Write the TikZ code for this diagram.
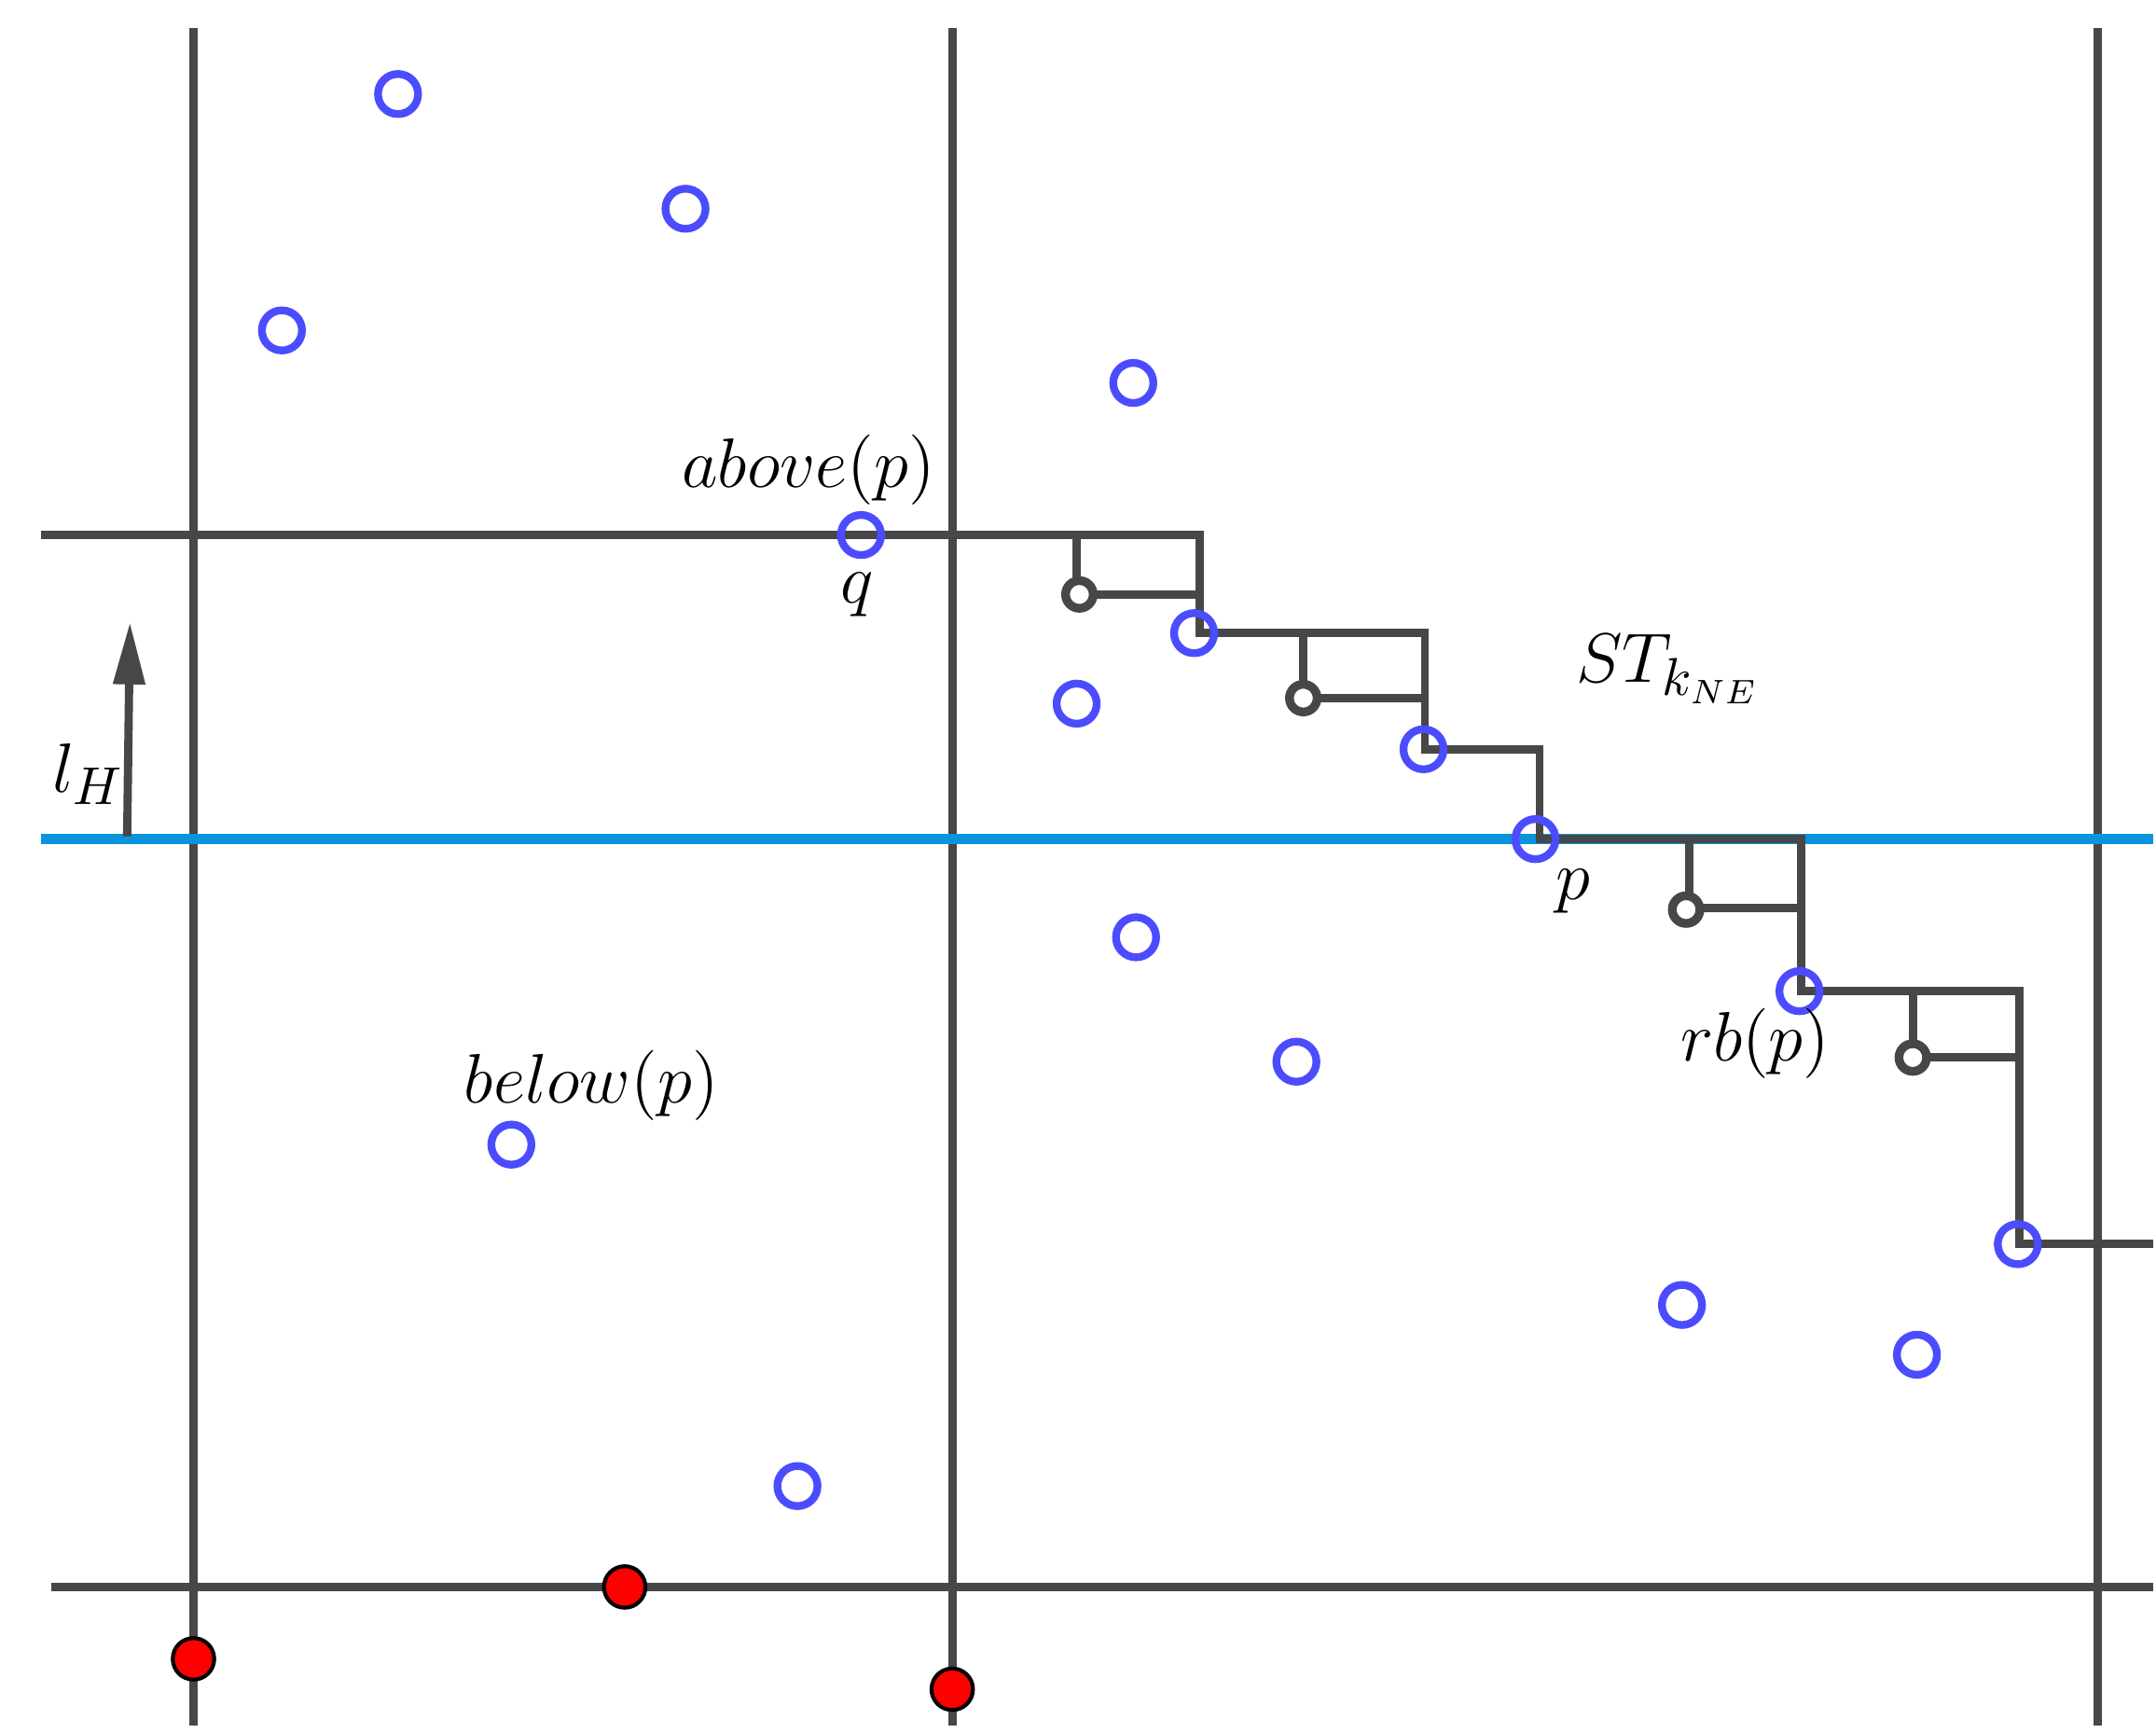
\documentclass[tikz,border=0pt]{standalone}
\usetikzlibrary{arrows.meta}
\begin{document}
\begin{tikzpicture}[x=0.01cm,y=-0.01cm,
  gl/.style={draw=black!72,line width=1.7pt},
  pt/.style={circle,draw=blue!70!white,line width=1.6pt,minimum size=0.29cm,inner sep=0pt},
  rp/.style={circle,draw=black,fill=red,line width=0.8pt,minimum size=0.3cm,inner sep=0pt},
  sm/.style={circle,draw=black!72,line width=1.8pt,fill=white,minimum size=0.2cm,inner sep=0pt},
  lab/.style={font=\fontsize{15}{18}\selectfont}]
\useasboundingbox (0,0) rectangle (1560,1253);
% lines
\coordinate (v1t) at (140,20); \coordinate (v1b) at (140,1248);
\coordinate (v2t) at (689,20); \coordinate (v2b) at (689,1248);
\coordinate (v3t) at (1518,20); \coordinate (v3b) at (1518,1248);
\draw[gl] (v1t)--(v1b); \draw[gl] (v2t)--(v2b); \draw[gl] (v3t)--(v3b);
\coordinate (bl0) at (37,1148); \coordinate (bl1) at (1558,1148);
\draw[gl] (bl0)--(bl1);
\coordinate (h0) at (30,387); \coordinate (h1) at (868,387);
\coordinate (c0) at (30,607); \coordinate (c1) at (1558,607);
\draw[draw=cyan!80!blue,line width=2pt] (c0)--(c1);
\draw[gl] (h0)--(h1)--(868,458)--(1031,458)--(1031,542)--(1114,542)--(1114,607)--(1303,607)--(1303,717)--(1461,717)--(1461,900)--(1558,900);
% brackets
\draw[gl] (779,387)--(779,430)--(868,430); \node[sm] (s1) at (781,430) {};
\draw[gl] (943,458)--(943,505)--(1031,505); \node[sm] (s2) at (943,505) {};
\draw[gl] (1222,607)--(1222,657)--(1303,657); \node[sm] (s3) at (1220,658) {};
\draw[gl] (1384,717)--(1384,765)--(1461,765); \node[sm] (s4) at (1384,765) {};
% arrow
\coordinate (a0) at (92,605); \coordinate (a1) at (94,450);
\draw[black!72,line width=1.7pt,-{Triangle[length=0.45cm,width=0.22cm]}] (a0)--(a1);
% points
\foreach \n/\x/\y in {p1/288/68,p2/496/151,p3/204/239,p4/820/277,q/623/387,p6/864/458,p7/779/509,p8/1030/542,p/1111/607,p10/822/678,p11/938/768,rb/1302/717,p13/370/828,p14/1217/944,p15/1387/980,p16/1460/900,p17/577/1075}
  \node[pt] (\n) at (\x,\y) {};
\node[rp] (r1) at (140,1200) {};
\node[rp] (r2) at (452,1148) {};
\node[rp] (r3) at (689,1222) {};
% labels
\node[lab] (la) at (585,340) {$above(p)$};
\node[lab] (lq) at (620,430) {$q$};
\node[lab] (lst) at (1207,484) {$ST_{k_{NE}}$};
\node[lab] (lp) at (1138,645) {$p$};
\node[lab] (lrb) at (1270,755) {$rb(p)$};
\node[lab] (lbe) at (428,785) {$below(p)$};
\node[lab] (lh) at (64,560) {$l_H$};
\end{tikzpicture}
\end{document}
